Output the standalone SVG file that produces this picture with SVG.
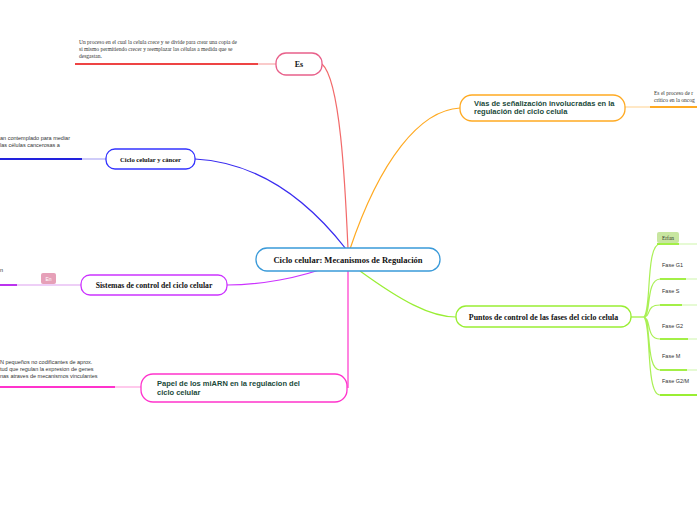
<svg xmlns="http://www.w3.org/2000/svg" width="697" height="520" viewBox="0 0 697 520">
<style>
.n{fill:#fff;stroke-width:1.3}
.t{font-family:"Liberation Serif",serif;font-weight:bold;fill:#111}
.s{font-family:"Liberation Sans",sans-serif;font-weight:bold;fill:#1a4a3a;font-size:7.5px}
.d{font-family:"Liberation Serif",serif;font-size:5.5px;fill:#333}
.ds{font-family:"Liberation Sans",sans-serif;font-size:5.5px;fill:#333}
.c{fill:none;stroke-width:1.2}
</style>
<rect width="697" height="520" fill="#fff"/>
<g id="connectors">
<path class="c" stroke="#f26a6a" d="M348,249 C345,180 340,80 322,64"/>
<path class="c" stroke="#3a2cf0" d="M346,249 C300,190 250,162 195,159"/>
<path class="c" stroke="#cc33ff" d="M330,266 C300,278 260,285 227,285"/>
<path class="c" stroke="#ff33cc" d="M348,271 L348,388"/>
<path class="c" stroke="#ffaa22" d="M350,249 C380,160 420,110 460,108"/>
<path class="c" stroke="#99ee33" d="M360,271 C400,300 430,317 456,317"/>
<g stroke-width="1.2" fill="none">
<path stroke="#ee4444" stroke-width="2" d="M75,64 H258"/><path stroke="#f7a6a6" d="M258,64 H276"/>
<path stroke="#2222dd" stroke-width="2" d="M0,159 H82"/><path stroke="#b0aaf5" d="M82,159 H106"/>
<path stroke="#bb33ee" stroke-width="2" d="M0,285 H17"/><path stroke="#dda0f0" d="M17,285 H81"/>
<path stroke="#ff33cc" stroke-width="2" d="M0,387 H115"/><path stroke="#ffa6e0" d="M115,387 H141"/>
<path stroke="#ffd9a0" d="M625,107 H650"/><path stroke="#ffaa22" stroke-width="2" d="M650,107 H697"/>
<path stroke="#99ee33" d="M631,317 H643"/>
<path stroke="#aaf055" d="M643,317 C652,317 645,244 660,244 M643,317 C652,317 645,280 660,279 M643,317 C652,317 645,305 660,305 M643,317 C652,317 645,339 660,339 M643,317 C652,317 645,370 660,370 M643,317 C652,317 645,395 660,395"/>
<g stroke="#99ee33" stroke-width="1.8"><path d="M657,244 H679"/><path d="M660,279 H686"/><path d="M660,305 H682"/><path d="M660,339 H688"/><path d="M660,370 H687"/><path d="M660,395 H697"/></g>
<g stroke="#d6f7b8"><path d="M679,244 H697"/><path d="M686,279 H697"/><path d="M682,305 H697"/><path d="M688,339 H697"/><path d="M687,370 H697"/></g>
</g>
</g>
<g id="center"><rect class="n" stroke="#3a9ad9" x="256" y="248" width="184" height="23" rx="11"/><text class="t" font-size="8.5" x="348" y="263" text-anchor="middle">Ciclo celular: Mecanismos de Regulación</text></g>
<g id="es"><rect class="n" stroke="#e8608a" x="276" y="53" width="46" height="22" rx="10"/><text class="t" font-size="8" x="299" y="67" text-anchor="middle">Es</text>
<text class="d" x="79" y="44">Un proceso en el cual la celula crece y se divide para crear una copia de</text><text class="d" x="79" y="51">si mismo permitiendo crecer y reemplazar las células a medida que se</text><text class="d" x="79" y="58">desgastan.</text></g>
<g id="cancer"><rect class="n" stroke="#3333ff" x="106" y="149" width="89" height="20" rx="9"/><text class="t" font-size="6.6" x="150.5" y="161.5" text-anchor="middle">Ciclo celular y cáncer</text>
<text class="ds" x="0" y="140">an contemplado para mediar</text><text class="ds" x="0" y="147">las células cancerosas a</text></g>
<g id="sistemas"><rect class="n" stroke="#cc33ff" x="81" y="275" width="146" height="20" rx="9"/><text class="t" font-size="7.7" x="154" y="288" text-anchor="middle">Sistemas de control del ciclo celular</text>
<rect x="41" y="273" width="15" height="11" rx="2" fill="#e6a0b8"/><text x="48.5" y="281" font-family="Liberation Sans,sans-serif" font-size="5" fill="#fff" text-anchor="middle">En</text>
<text class="ds" x="0" y="272">n</text></g>
<g id="papel"><rect class="n" stroke="#ff33cc" x="141" y="374" width="206" height="28" rx="12"/><text class="s" x="157" y="386">Papel de los miARN en la regulacion del</text><text class="s" x="157" y="395">ciclo celular</text>
<text class="ds" x="0" y="364">N pequeños no codificantes de aprox.</text><text class="ds" x="0" y="371">tud que regulan la expresion de genes</text><text class="ds" x="0" y="378">nas atraves de mecanismos vinculantes</text></g>
<g id="vias"><rect class="n" stroke="#ffaa22" x="460" y="95" width="165" height="26" rx="12"/><text class="s" x="474" y="106" font-size="6.5">Vías de señalización involucradas en la</text><text class="s" x="474" y="114" font-size="6.5">regulación del ciclo celula</text>
<text class="d" x="654" y="95">Es el proceso de r</text><text class="d" x="654" y="102">crítico en la oncog</text></g>
<g id="puntos"><rect class="n" stroke="#99ee33" x="456" y="306" width="175" height="21" rx="10"/><text class="t" font-size="7.9" x="543.5" y="319.5" text-anchor="middle">Puntos de control de las fases del ciclo celula</text>
<rect x="657" y="232" width="22" height="11" rx="2" fill="#c8e6a0"/><text class="d" x="668" y="239.5" text-anchor="middle">Erfan</text>
<g class="ds"><text x="662" y="267">Fase G1</text><text x="662" y="293">Fase S</text><text x="662" y="328">Fase G2</text><text x="662" y="358">Fase M</text><text x="662" y="383">Fase G2/M</text></g></g>
</svg>
